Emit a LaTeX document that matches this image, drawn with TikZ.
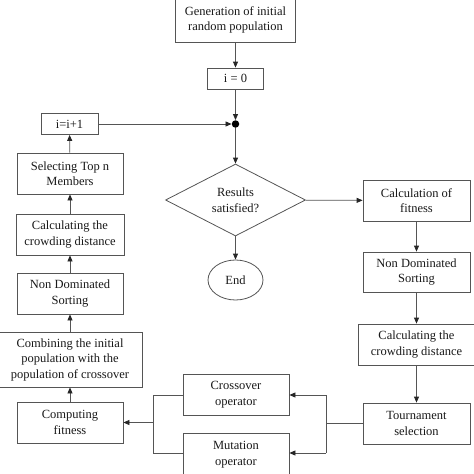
\documentclass[tikz,border=0pt]{standalone}
\usepackage{fontspec}
\setmainfont{Liberation Serif}
\usetikzlibrary{arrows.meta,shapes.geometric}
\definecolor{linec}{HTML}{555555}
\tikzset{
  box/.style={draw=linec, line width=0.8pt, rectangle, inner sep=0pt, align=center,
    font=\fontsize{12.5}{15.5}\selectfont, text=black!90},
  flow/.style={draw=linec, line width=0.8pt, -{Triangle[length=6pt,width=5pt,color=black!85]}},
  plain/.style={draw=linec, line width=0.8pt},
}
\begin{document}
\begin{tikzpicture}[x=1pt,y=-1pt]
\clip (0,0) rectangle (474,474);
\useasboundingbox (0,0) rectangle (474,474);
% nodes
\node[box, minimum width=120pt, minimum height=44pt] (gen) at (235.5,20) {Generation of initial\\random population};
\node[box, minimum width=56pt, minimum height=21pt] (i0) at (235.5,78.5) {i = 0};
\node[circle, fill=black, inner sep=0pt, minimum size=7.5pt] (dot) at (235.5,124) {};
\node[box, minimum width=57pt, minimum height=21pt] (inc) at (69.5,124) {i=i+1};
\node[box, minimum width=106pt, minimum height=41pt] (sel) at (70,173.5) {Selecting Top n\\Members};
\node[box, diamond, aspect=1.944, minimum width=140pt, minimum height=72pt] (dec) at (235.5,200) {Results\\satisfied?};
\node[box, minimum width=107pt, minimum height=41pt] (cfi) at (416.5,200.5) {Calculation of\\fitness};
\node[box, minimum width=108pt, minimum height=41pt] (lcr) at (70,234.5) {Calculating the\\crowding distance};
\node[box, ellipse, minimum width=55pt, minimum height=40pt] (end) at (235.5,280) {End};
\node[box, minimum width=107pt, minimum height=40pt] (rnd) at (416.5,272) {Non Dominated\\Sorting};
\node[box, minimum width=106pt, minimum height=41pt] (lnd) at (70,293.5) {Non Dominated\\Sorting};
\node[box, minimum width=117pt, minimum height=41pt] (rcr) at (416.5,344.5) {Calculating the\\crowding distance};
\node[box, minimum width=144pt, minimum height=55pt] (comb) at (70,359.5) {Combining the initial\\population with the\\population of crossover};
\node[box, minimum width=107pt, minimum height=41pt] (tour) at (416.5,423.5) {Tournament\\selection};
\node[box, minimum width=106pt, minimum height=41pt] (cfit) at (70,422.5) {Computing\\fitness};
\node[box, minimum width=106pt, minimum height=41pt] (cross) at (236,394.5) {Crossover\\operator};
\node[box, minimum width=106pt, minimum height=43pt] (mut) at (236,454.5) {Mutation\\operator};
% coordinates
\coordinate (rj) at (326,423.5);
\coordinate (rt) at (326,395);
\coordinate (rb) at (326,453);
\coordinate (lt) at (153,395);
\coordinate (lb) at (153,453);
\coordinate (lm) at (153,422.5);
% connectors
\draw[flow] (gen) -- (i0);
\draw[flow] (i0) -- (dot);
\draw[flow] (inc) -- (dot);
\draw[flow] (dot) -- (dec);
\draw[flow] (dec) -- (cfi);
\draw[flow] (dec) -- (end);
\draw[flow] (cfi) -- (rnd);
\draw[flow] (rnd) -- (rcr);
\draw[flow] (rcr) -- (tour);
\draw[plain] (tour.west) -- (rj);
\draw[plain] (rt) -- (rb);
\draw[flow] (rt) -- (cross.east |- rt);
\draw[flow] (rb) -- (mut.east |- rb);
\draw[plain] (cross.west |- lt) -- (lt) -- (lb) -- (mut.west |- lb);
\draw[flow] (lm) -- (cfit.east);
\draw[flow] (cfit) -- (comb);
\draw[flow] (comb) -- (lnd);
\draw[flow] (lnd) -- (lcr);
\draw[flow] (lcr) -- (sel);
\draw[flow] (sel) -- (inc);
\end{tikzpicture}
\end{document}
